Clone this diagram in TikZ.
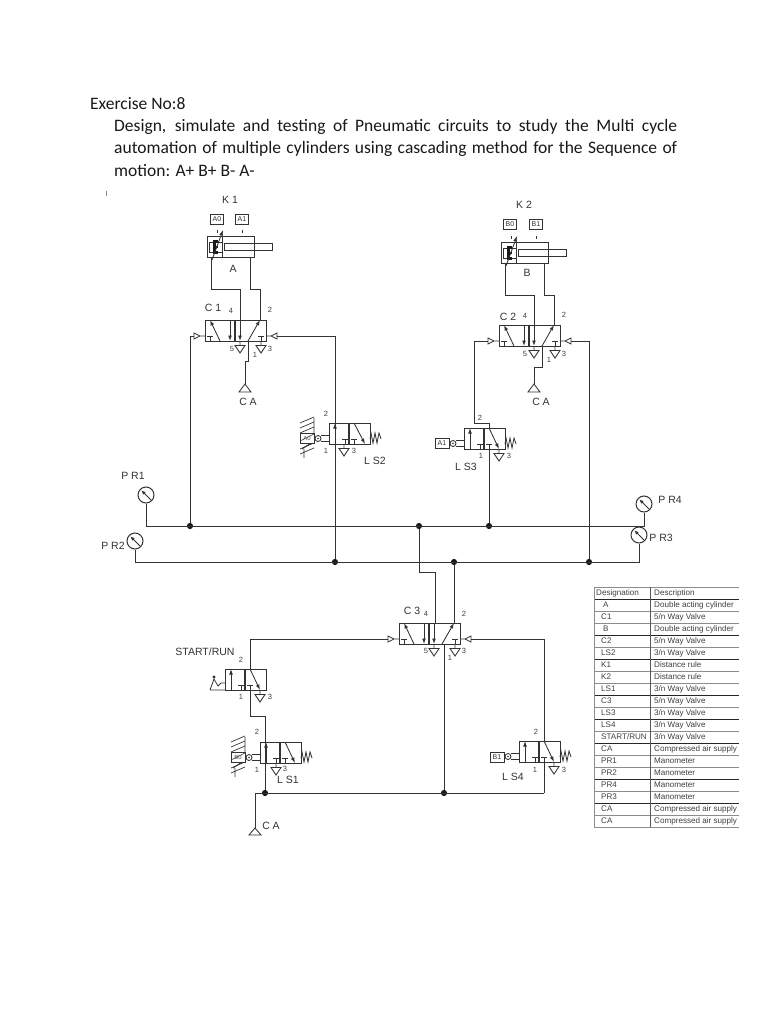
\documentclass[tikz,border=0pt]{standalone}
\usepackage{fontspec}
\setmainfont{Liberation Sans}
\newfontfamily\titlefont{Carlito}
\usetikzlibrary{arrows.meta,calc}
\definecolor{wire}{gray}{0.2}
\tikzset{
  wireline/.style={draw=wire,line width=0.9pt,line join=miter},
  symb/.style={draw=wire,line width=0.85pt},
  flow/.style={symb,-{Latex[length=5.5pt,width=3.8pt]}},
  lab/.style={font=\fontsize{10.5}{12}\selectfont,text=black!80,inner sep=0pt},
  port/.style={font=\fontsize{7.5}{9}\selectfont,text=black!75,inner sep=0pt},
  titletext/.style={font=\titlefont\fontsize{17.5}{21}\selectfont,text=black!90,inner sep=0pt,anchor=west},
  tabtext/.style={font=\fontsize{8.1}{10}\selectfont,text=black!75,inner sep=0pt,anchor=west},
  dot/.style={circle,fill=black!90,inner sep=0pt,minimum size=6.2pt},
  meter/.style={circle,draw=wire,line width=1pt,fill=white,inner sep=0pt,minimum size=16pt},
  tagbox/.style={draw=wire,line width=0.7pt,fill=white,inner sep=0pt,minimum width=14pt,minimum height=10pt,font=\fontsize{7}{8}\selectfont,text=black!80},
}
\newcommand{\tport}[1]{\draw[symb] (#1,21)--(#1,16) (#1-2.6,16)--(#1+2.6,16);}
\newcommand{\exh}[1]{\draw[symb] (#1,21)--(#1,25.5) (#1-5,25.5)--(#1+5,25.5)--(#1,33)--cycle;}
\newcommand{\fiveval}[2]{%
 \begin{scope}[shift={(#1,#2)}]
  \draw[symb] (0,0) rectangle (61,21);
  \draw[symb,line width=1.2pt] (30,0)--(30,21);
  \draw[flow] (15,21)--(5,0);
  \tport{5}
  \draw[flow] (25,0)--(25,21);
  \draw[flow] (35,0)--(35,21);
  \exh{35}
  \draw[flow] (43,21)--(55,0);
  \tport{56}
  \exh{56}
  \draw[symb] (-11,13)--(-5,16)--(-11,19)--cycle (-5,16)--(0,16);
  \draw[symb] (72,13)--(66,16)--(72,19)--cycle (66,16)--(61,16);
 \end{scope}}
\newcommand{\cyl}[2]{%
 \begin{scope}[shift={(#1,#2)}]
  \draw[symb] (0,0) rectangle (47,21);
  \draw[symb] (2,6) rectangle (15,16);
  \draw[symb] (15,0)--(15,21);
  \draw[symb] (17,7) rectangle (65,14);
  \draw[line width=2.4pt,draw=black!90] (11,5.5)--(7.5,5.5)--(7.5,16.5)--(11,16.5);
  \draw[line width=1.6pt,draw=black!90] (7.5,11)--(11,11);
  \draw[flow] (5,24)--(16,-6);
  \draw[symb,line width=0.5pt] (10,-6)--(10,-3) (35,-6)--(35,-3);
 \end{scope}}
\newcommand{\threeval}[2]{%
  \draw[symb] (0,0) rectangle (41,21);
  \draw[symb,line width=1.2pt] (20,0)--(20,21);
  \draw[flow] (6,21)--(6,0);
  \tport{16}
  \tport{25}
  \draw[flow] (#1,0)--(#2,21);}
\newcommand{\spring}{\draw[symb,line width=0.8pt] (41,16)--(42,10)--(44,20)--(46,10)--(48,20)--(50,10)--(52,16);}
\newcommand{\roller}{%
  \draw[symb] (-8,12.5)--(0,12.5) (-8,18.5)--(0,18.5);
  \draw[symb,fill=white] (-11,15.5) circle (3);
  \fill[black!80] (-11,15.5) circle (0.9);}
\newcommand{\camwall}{%
  \draw[symb] (-15,-5)--(-15,18)--(-27,26) (-25,26)--(-25,35);
  \foreach \yy in {-6,-1,4,20,25}{\draw[symb,line width=0.7pt] (-15,\yy)--(-29,\yy+6);}
  \draw[symb,fill=white] (-29,10) rectangle (-15,20);
  \draw[symb,line width=0.5pt] (-29,18)--(-15,11);}
\newcommand{\trow}[3]{%
  \node[tabtext] (ta#1) at (601,{593+12*#1}) {#2};
  \node[tabtext] (tb#1) at (654,{593+12*#1}) {#3};}
\begin{document}
\begin{tikzpicture}[x=1pt,y=-1pt]
\useasboundingbox (0,0) rectangle (768,1024);
\fill[white] (0,0) rectangle (768,1024);

% title
\node[titletext] (t0) at (90,104) {Exercise No:8};
\node[titletext] (t1) at (114,127) {\makebox[563pt][s]{Design, simulate and testing of Pneumatic circuits to study the Multi cycle}};
\node[titletext] (t2) at (114,149) {\makebox[563pt][s]{automation of multiple cylinders using cascading method for the Sequence of}};
\node[titletext] (t3) at (114,171) {motion: A+ B+ B- A-};
\draw[black!45,line width=0.6pt] (106,191)--(106,196);

% named points
\coordinate (busAr) at (644,526);
\coordinate (busBr) at (639,562);
\node[dot] (jA1) at (190,526) {};
\node[dot] (jA2) at (419,526) {};
\node[dot] (jA3) at (489,526) {};
\node[dot] (jB1) at (335,562) {};
\node[dot] (jB2) at (454,562) {};
\node[dot] (jB3) at (589,562) {};
\node[dot] (jC1) at (265,793) {};
\node[dot] (jC2) at (444,793) {};
\coordinate (jC3) at (544,793);
\coordinate (sup3) at (255,793);

% meters
\node[meter] (pr1) at (146,495) {};
\node[meter] (pr2) at (135,541) {};
\node[meter] (pr4) at (644,504) {};
\node[meter] (pr3) at (639,535) {};
\foreach \m in {pr1,pr2,pr3,pr4}{
  \draw[symb,-{Latex[length=4.5pt,width=3.4pt]}] ($(\m)+(5.5,5.5)$) -- ($(\m)+(-4.8,-4.8)$);
}
\node[lab] (lpr1) at (133,476) {P R1};
\node[lab] (lpr2) at (113,546) {P R2};
\node[lab] (lpr4) at (670,500) {P R4};
\node[lab] (lpr3) at (661,538) {P R3};

% buses
\draw[wireline] (pr1.south) |- (busAr) -- (pr4.south);
\draw[wireline] (pr2.south) |- (busBr) -- (pr3.south);

% cylinders and 5/2 valves
\cyl{207}{236}
\cyl{501}{242}
\fiveval{205}{320}
\fiveval{499}{325}
\fiveval{399}{623}

% C1 wiring
\coordinate (a4) at (211,257); \coordinate (a2) at (250,257);
\coordinate (c1b) at (240,320); \coordinate (c1d) at (260,320);
\draw[wireline] (a4)--(211,289)-|(c1b);
\draw[wireline] (a2)--(250,289)-|(c1d);
\coordinate (c1p) at (248,341);
\coordinate (ca1) at (245,384);
\draw[wireline] (c1p)--(248,361)-|(ca1);
\draw[symb] (ca1)--(239,392)--(251,392)--cycle;
\coordinate (c1l) at (194,336); \coordinate (c1r) at (277,336);
\draw[wireline] (c1l)-|(jA1);
\draw[wireline] (c1r)-|(jB1);

% C2 wiring
\coordinate (b4) at (505,263); \coordinate (b2) at (544,263);
\coordinate (c2b) at (534,325); \coordinate (c2d) at (554,325);
\draw[wireline] (b4)--(505,295)-|(c2b);
\draw[wireline] (b2)--(544,295)-|(c2d);
\coordinate (c2p) at (542,346);
\coordinate (ca2) at (534,384);
\draw[wireline] (c2p)--(542,367)-|(ca2);
\draw[symb] (ca2)--(528,392)--(540,392)--cycle;
\coordinate (c2l) at (488,341); \coordinate (c2r) at (571,341);
\coordinate (ls3t) at (489,428);
\draw[wireline] (c2l)-|(474,423)-|(ls3t);
\draw[wireline] (c2r)-|(jB3);

% C3 wiring
\coordinate (c3b) at (435,623); \coordinate (c3d) at (454,623);
\draw[wireline] (jA2)--(419,572)-|(c3b);
\draw[wireline] (jB2)--(c3d);
\coordinate (c3p) at (444,644);
\draw[wireline] (c3p)--(jC2);
\coordinate (c3l) at (388,639); \coordinate (c3r) at (471,639);
\coordinate (ls4t) at (544,741);
\draw[wireline] (c3l)-|(250,669);
\draw[wireline] (c3r)-|(ls4t);

% LS2
\begin{scope}[shift={(329,423)}]
  \threeval{25}{36}\exh{15}\spring\camwall\roller
\end{scope}
\node[font=\fontsize{6}{7}\selectfont,inner sep=0pt,text=black!70] (tA0) at (307,438) {A0};
\draw[wireline] (jB1)--(335,422);
% LS3
\begin{scope}[shift={(464,428)}]
  \threeval{25}{35}\exh{35}\spring\roller
\end{scope}
\node[tagbox] (tA1) at (442,443) {A1};
\draw[wireline] (489,449)--(jA3);
% LS4
\begin{scope}[shift={(519,741)}]
  \threeval{25}{35}\exh{35}\spring\roller
\end{scope}
\node[tagbox] (tB1) at (497,757) {B1};
\draw[wireline] (544,762)--(jC3);
% LS1
\begin{scope}[shift={(260,742)}]
  \threeval{25}{35}\exh{16}\spring\camwall\roller
\end{scope}
\node[font=\fontsize{6}{7}\selectfont,inner sep=0pt,text=black!70] (tB0) at (238,757) {B0};
% START/RUN
\begin{scope}[shift={(225,669)}]
  \threeval{25}{35}\exh{35}
  \draw[symb,line width=0.8pt] (-15,21)--(-11,10)--(-7,17)--(-4,14)--(0,14) (-15,21)--(0,21);
  \fill[wire] (-11,8) circle (1.6);
\end{scope}
\coordinate (stb) at (250,690);
\coordinate (ls1t) at (265,716);
\draw[wireline] (stb)|-(ls1t)--(jC1);
\draw[wireline] (sup3)--(jC3);
\coordinate (ca3) at (255,828);
\draw[wireline] (sup3)--(ca3);
\draw[symb] (ca3)--(249,835)--(261,835)--cycle;

% labels
\node[lab] (lK1) at (230,200) {K 1};
\node[tagbox,minimum width=13pt] (tagA0) at (217,219) {A0};
\node[tagbox,minimum width=13pt] (tagA1) at (242,219) {A1};
\node[lab] (lA) at (233,269) {A};
\node[lab] (lC1) at (213,308) {C 1};
\node[port] (p14) at (231,311) {4};
\node[port] (p12) at (270,310) {2};
\node[port] (p15) at (232,349) {5};
\node[port] (p11) at (255,355) {1};
\node[port] (p13) at (270,349) {3};
\node[lab] (lCA1) at (248,402) {C A};

\node[lab] (lK2) at (524,205) {K 2};
\node[tagbox,minimum width=13pt] (tagB0) at (510,224) {B0};
\node[tagbox,minimum width=13pt] (tagB1) at (536,224) {B1};
\node[lab] (lB) at (527,273) {B};
\node[lab] (lC2) at (508,317) {C 2};
\node[port] (p24) at (525,316) {4};
\node[port] (p22) at (564,315) {2};
\node[port] (p25) at (525,354) {5};
\node[port] (p21) at (549,360) {1};
\node[port] (p23) at (564,354) {3};
\node[lab] (lCA2) at (541,402) {C A};

\node[lab] (lC3) at (412,611) {C 3};
\node[port] (p34) at (426,614) {4};
\node[port] (p32) at (464,614) {2};
\node[port] (p35) at (426,651) {5};
\node[port] (p31) at (450,658) {1};
\node[port] (p33) at (464,651) {3};

\node[port] (ls22) at (326,414) {2};
\node[port] (ls21) at (326,451) {1};
\node[port] (ls23) at (354,451) {3};
\node[lab] (lLS2) at (375,461) {L S2};
\node[port] (ls32) at (480,418) {2};
\node[port] (ls31) at (481,456) {1};
\node[port] (ls33) at (509,456) {3};
\node[lab] (lLS3) at (466,467) {L S3};
\node[port] (ls42) at (536,732) {2};
\node[port] (ls41) at (535,770) {1};
\node[port] (ls43) at (564,770) {3};
\node[lab] (lLS4) at (513,777) {L S4};
\node[port] (ls12) at (257,732) {2};
\node[port] (ls11) at (257,770) {1};
\node[port] (ls13) at (285,769) {3};
\node[lab] (lLS1) at (288,780) {L S1};
\node[lab] (lSR) at (205,652) {START/RUN};
\node[port] (s2) at (241,660) {2};
\node[port] (s1) at (241,697) {1};
\node[port] (s3) at (270,697) {3};
\node[lab] (lCA3) at (271,826) {C A};

% table
\foreach \yy/\cc in {587/45,599/85,611/45,623/45,635/85,647/45,659/85,671/45,683/45,695/85,707/45,719/85,731/45,743/85,755/45,767/45,779/85,791/45,803/85,815/45,827/45}
  {\draw[black!\cc,line width=0.8pt] (594,\yy)--(739,\yy);}
\draw[black!45,line width=0.7pt] (594,587)--(594,827);
\draw[black!65,line width=1pt] (650,587)--(650,827);
\node[tabtext] (ta0) at (596,593) {Designation};
\node[tabtext] (tb0) at (654,593) {Description};
\trow{1}{\hspace{2pt}A}{Double acting cylinder}
\trow{2}{C1}{5/n Way Valve}
\trow{3}{\hspace{2pt}B}{Double acting cylinder}
\trow{4}{C2}{5/n Way Valve}
\trow{5}{LS2}{3/n Way Valve}
\trow{6}{K1}{Distance rule}
\trow{7}{K2}{Distance rule}
\trow{8}{LS1}{3/n Way Valve}
\trow{9}{C3}{5/n Way Valve}
\trow{10}{LS3}{3/n Way Valve}
\trow{11}{LS4}{3/n Way Valve}
\trow{12}{START/RUN}{3/n Way Valve}
\trow{13}{CA}{Compressed air supply}
\trow{14}{PR1}{Manometer}
\trow{15}{PR2}{Manometer}
\trow{16}{PR4}{Manometer}
\trow{17}{PR3}{Manometer}
\trow{18}{CA}{Compressed air supply}
\trow{19}{CA}{Compressed air supply}
\end{tikzpicture}
\end{document}
